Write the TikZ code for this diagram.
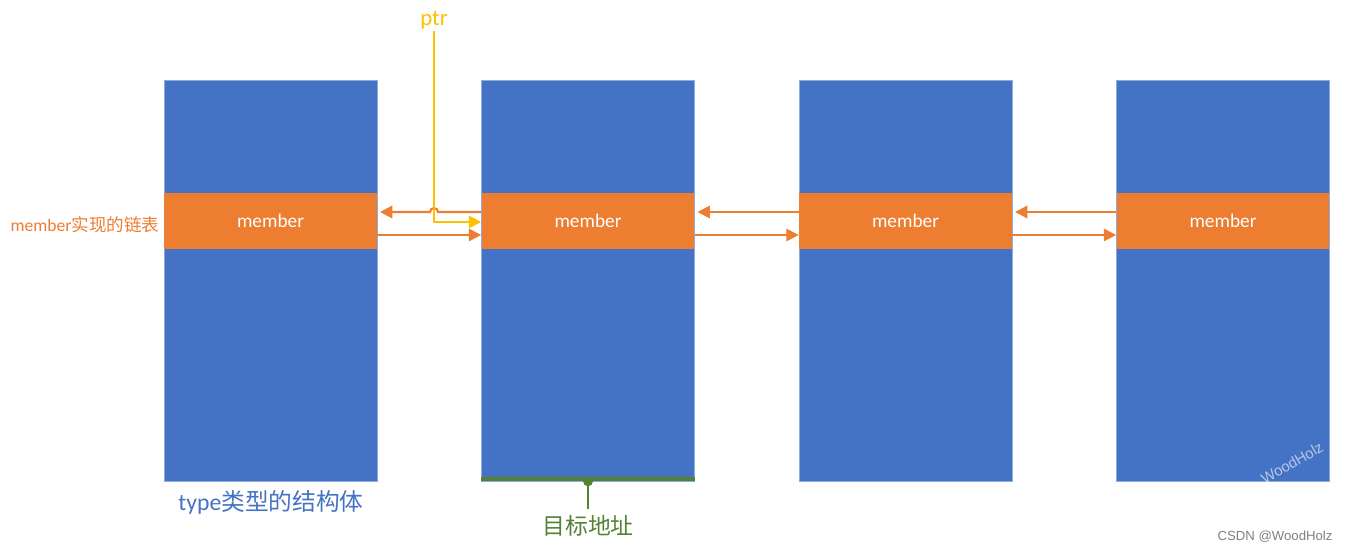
\documentclass[tikz,border=0pt]{standalone}
\usepackage{fontspec}
\setmainfont{Carlito}
\newfontfamily\cjk{Noto Sans CJK SC}
\newfontfamily\wmfont{Liberation Sans}
\usetikzlibrary{arrows.meta}
\definecolor{blk}{HTML}{4472C4}
\definecolor{mem}{HTML}{ED7D31}
\definecolor{ptrc}{HTML}{FFC000}
\definecolor{adr}{HTML}{548235}

\begin{document}
\begin{tikzpicture}[x=0.02cm,y=0.02cm,>={Triangle[length=7pt,width=7pt]},
  block/.style={draw=blk!60!white,line width=0.4pt,fill=blk,minimum width=4.26cm,minimum height=8.02cm,inner sep=0},
  band/.style={fill=mem,minimum width=4.26cm,minimum height=1.12cm,text=white,font=\fontsize{11}{13}\selectfont,inner sep=0},
  link/.style={->,draw=mem,line width=1.2pt}]
\useasboundingbox (0,0) rectangle (1345,551);
\foreach \i/\x in {1/270.5,2/588,3/905.5,4/1223} {
  \node[block] (blk\i) at (\x,270.5) {};
  \node[band] (mem\i) at (\x,330) {member};
}
% links between the members
\draw[link,shorten >=1.5pt] ([yshift=0.18cm]mem2.west) -- (438,339) arc[start angle=0,end angle=180,radius=0.08cm] -- ([yshift=0.18cm]mem1.east);
\foreach \a/\b in {2/3,3/4}
  \draw[link,shorten >=1.5pt] ([yshift=0.18cm]mem\b.west) -- ([yshift=0.18cm]mem\a.east);
\foreach \a/\b in {1/2,2/3,3/4}
  \draw[link] ([yshift=-0.28cm]mem\a.east) -- ([yshift=-0.28cm]mem\b.west);
% ptr
\node[text=ptrc,font=\fontsize{13}{15}\selectfont,inner sep=1pt] (ptr) at (434,531) {ptr};
\draw[->,draw=ptrc,line width=1.2pt] (ptr.south) |- ([yshift=-0.02cm]mem2.west);
% target address
\draw[adr,line width=2.3pt] ([yshift=0.04cm]blk2.south west) -- ([yshift=0.04cm]blk2.south east);
\node[text=adr,font=\fontsize{13}{15}\selectfont\cjk] (tgt) at (588,25) {目标地址};
\draw[adr,line width=1.2pt] (blk2.south) -- (tgt.north);
\fill[adr] (blk2.south) circle[radius=0.1cm];
% labels
\node[text=blk,font=\fontsize{13.5}{15}\selectfont] (typ) at (271,49) {type{\cjk 类型的结构体}};
\node[text=mem,font=\fontsize{10}{12}\selectfont] (lst) at (85,326) {member{\cjk 实现的链表}};
\node[text=white,opacity=0.6,rotate=30,font=\wmfont\fontsize{8.5}{10}\selectfont] (wm) at (1292,88) {WoodHolz};
\node[text=gray,font=\wmfont\fontsize{7.5}{9}\selectfont] (csdn) at (1275,14) {CSDN @WoodHolz};
\end{tikzpicture}
\end{document}
